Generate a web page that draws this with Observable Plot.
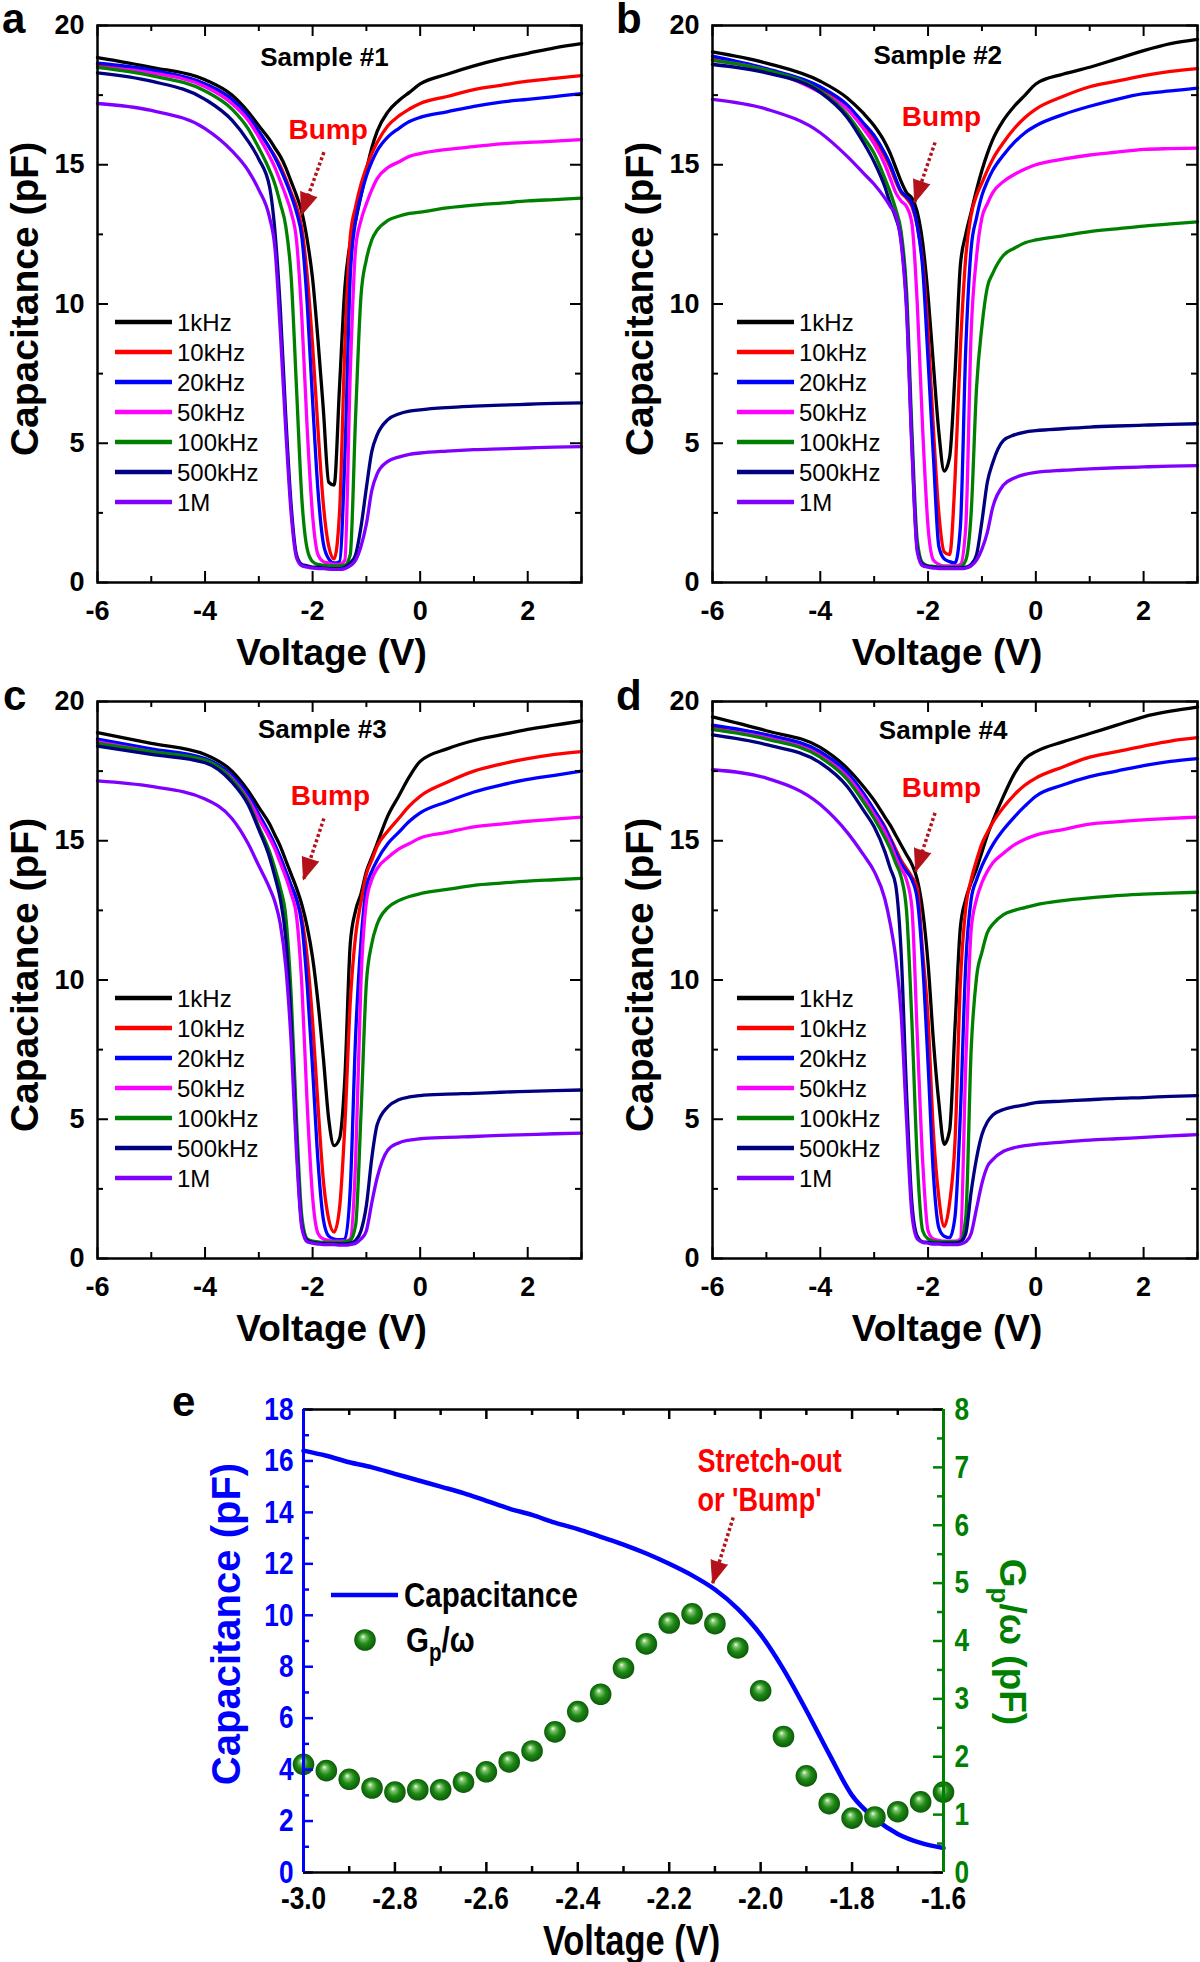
<!DOCTYPE html>
<html><head><meta charset="utf-8">
<script src="https://cdn.jsdelivr.net/npm/d3@7"></script>
<script src="https://cdn.jsdelivr.net/npm/@observablehq/plot@0.6"></script>
<style>
html,body{margin:0;padding:0;background:#fff;overflow:hidden;}
#fig{position:relative;width:1200px;height:1962px;font-family:Arial,"Liberation Sans",Helvetica,sans-serif;}
#fig > svg, #fig > div{position:absolute;}
</style></head>
<body><div id="fig"></div>
<script>
// ---------------- DATA ----------------
const freqs = ["1kHz","10kHz","20kHz","50kHz","100kHz","500kHz","1M"];
const freqColors = ["#000000","#ff0000","#0000ff","#ff00ff","#008000","#000080","#7f00ff"];
const sampleTitles = ["Sample #1","Sample #2","Sample #3","Sample #4"];
const panelLetters = ["a","b","c","d","e"];

// voltage grid shared by panels a-d
const V = [-6,-5,-4,-3.5,-3.2,-3,-2.8,-2.7,-2.6,-2.5,-2.4,-2.3,-2.2,-2.1,-2.0,-1.9,-1.8,-1.7,-1.6,-1.5,-1.4,-1.3,-1.2,-1.1,-1.0,-0.9,-0.8,-0.6,-0.4,-0.2,0,0.5,1,1.5,2,2.5,3];

// Sample #1
const a_1k   = [18.85,18.5,18.05,17.5,16.9,16.4,15.9,15.6,15.3,14.9,14.4,13.9,13.3,12.3,10.9,8.7,6.2,3.6,3.5,7.0,10.6,12.2,13.0,13.9,14.8,15.6,16.2,16.9,17.3,17.6,17.9,18.25,18.55,18.8,19.0,19.2,19.35];
const a_10k  = [18.6,18.35,17.9,17.35,16.75,16.2,15.6,15.3,14.95,14.5,14.0,13.5,12.7,11.0,8.5,5.5,2.8,1.3,0.85,2.5,8.5,12.4,13.5,14.3,14.9,15.4,15.8,16.4,16.75,17.0,17.2,17.45,17.7,17.85,18.0,18.1,18.2];
const a_20k  = [18.65,18.4,17.9,17.35,16.75,16.2,15.6,15.25,14.85,14.4,13.9,13.3,12.4,10.0,6.5,3.3,1.4,0.85,0.7,0.75,4.5,11.0,13.0,13.9,14.6,15.1,15.5,16.0,16.3,16.55,16.7,16.9,17.1,17.25,17.35,17.45,17.55];
const a_50k  = [18.5,18.3,17.8,17.2,16.6,16.0,15.3,14.9,14.4,13.9,13.3,12.3,9.5,5.5,2.4,1.0,0.75,0.7,0.65,0.65,0.8,7.5,12.0,13.0,13.6,14.1,14.5,14.9,15.1,15.3,15.4,15.55,15.65,15.75,15.8,15.85,15.9];
const a_100k = [18.5,18.2,17.65,17.0,16.3,15.6,14.8,14.3,13.6,12.8,11.0,7.0,3.0,1.2,0.75,0.65,0.62,0.6,0.6,0.6,0.62,1.0,6.0,10.3,11.6,12.3,12.65,13.0,13.15,13.25,13.3,13.45,13.55,13.62,13.7,13.75,13.8];
const a_500k = [18.3,18.0,17.35,16.6,15.85,15.2,14.2,12.6,9.8,6.0,2.8,1.0,0.65,0.6,0.55,0.55,0.52,0.5,0.5,0.5,0.55,0.7,1.0,2.0,3.4,4.7,5.3,5.85,6.05,6.15,6.2,6.28,6.33,6.37,6.4,6.43,6.45];
const a_1M   = [17.2,16.95,16.3,15.5,14.8,14.1,13.1,12.0,9.0,5.5,2.5,0.9,0.6,0.55,0.52,0.5,0.5,0.48,0.47,0.47,0.5,0.6,0.8,1.3,2.1,3.3,3.9,4.35,4.5,4.6,4.65,4.72,4.77,4.8,4.83,4.86,4.88];

// Sample #2
const b_1k   = [19.05,18.65,18.0,17.4,16.85,16.4,15.8,15.4,14.9,14.4,14.0,13.8,13.3,12.2,10.3,7.8,5.4,4.0,4.5,7.5,11.4,12.5,13.3,14.1,14.8,15.4,15.9,16.6,17.1,17.5,17.9,18.25,18.5,18.8,19.1,19.35,19.5];
const b_10k  = [18.8,18.4,17.75,17.1,16.45,15.95,15.3,14.9,14.4,14.0,13.8,13.5,12.8,11.5,9.0,5.5,2.5,1.1,1.0,3.7,8.4,11.7,13.2,13.9,14.35,14.8,15.2,15.8,16.3,16.7,17.0,17.45,17.8,18.0,18.2,18.35,18.45];
const b_20k  = [18.9,18.45,17.8,17.15,16.5,16.05,15.4,15.0,14.5,14.05,13.85,13.6,12.8,11.3,8.0,4.5,1.3,0.85,0.75,0.7,2.0,8.4,12.0,13.1,13.9,14.4,14.8,15.35,15.8,16.15,16.4,16.8,17.1,17.35,17.55,17.65,17.75];
const b_50k  = [18.75,18.4,17.6,17.0,16.3,15.75,15.0,14.5,14.0,13.7,13.5,12.9,10.0,5.5,2.0,0.8,0.65,0.6,0.6,0.6,0.65,2.0,9.0,11.7,13.1,13.6,14.0,14.4,14.65,14.85,15.0,15.2,15.35,15.45,15.55,15.58,15.6];
const b_100k = [18.75,18.4,17.65,16.8,16.0,15.4,14.5,14.0,13.4,12.6,10.5,5.5,1.5,0.7,0.6,0.58,0.56,0.55,0.55,0.55,0.56,0.8,2.5,7.0,9.2,10.6,11.1,11.75,12.0,12.2,12.3,12.45,12.6,12.7,12.8,12.88,12.95];
const b_500k = [18.6,18.3,17.6,16.7,15.8,15.1,14.2,13.6,13.1,12.3,10.0,5.0,1.2,0.65,0.58,0.55,0.53,0.52,0.52,0.52,0.52,0.55,0.65,1.0,2.2,3.6,4.3,5.1,5.3,5.4,5.45,5.52,5.58,5.62,5.65,5.68,5.7];
const b_1M   = [17.35,17.0,16.15,15.3,14.7,14.3,13.8,13.5,13.2,12.2,9.8,4.8,1.1,0.6,0.55,0.52,0.5,0.5,0.5,0.5,0.5,0.52,0.6,0.8,1.2,1.8,2.7,3.5,3.75,3.88,3.95,4.03,4.08,4.12,4.15,4.18,4.2];

// Sample #3
const c_1k   = [18.88,18.5,18.1,17.5,16.8,16.2,15.6,15.2,14.8,14.3,13.8,13.3,12.7,11.9,10.8,9.2,7.2,5.0,4.05,4.3,6.5,11.3,12.5,13.1,13.9,14.4,14.9,15.9,16.6,17.3,17.85,18.3,18.6,18.8,19.0,19.15,19.3];
const c_10k  = [18.6,18.25,17.9,17.3,16.6,15.9,15.2,14.8,14.4,13.9,13.4,12.9,12.2,10.8,8.5,5.5,2.8,1.4,0.95,1.8,4.8,9.2,11.6,12.8,13.8,14.3,14.8,15.35,15.8,16.25,16.6,17.1,17.5,17.75,17.95,18.1,18.2];
const c_20k  = [18.65,18.3,17.95,17.35,16.65,15.95,15.25,14.85,14.4,13.9,13.4,12.9,12.0,9.8,6.8,3.5,1.4,0.8,0.7,0.68,0.7,2.5,8.0,11.4,13.3,13.9,14.3,14.9,15.3,15.7,16.0,16.4,16.75,17.0,17.2,17.35,17.5];
const c_50k  = [18.55,18.2,17.85,17.25,16.5,15.8,15.1,14.7,14.2,13.7,13.1,12.3,9.8,5.5,2.2,0.9,0.7,0.65,0.62,0.62,0.62,0.7,3.5,10.0,12.8,13.6,14.0,14.4,14.7,14.9,15.1,15.3,15.5,15.6,15.7,15.78,15.85];
const c_100k = [18.5,18.2,17.9,17.2,16.4,15.5,14.6,14.0,13.3,12.3,9.5,5.0,1.5,0.7,0.62,0.6,0.58,0.58,0.58,0.58,0.6,0.65,1.2,5.2,9.9,11.3,12.0,12.6,12.85,13.0,13.1,13.25,13.4,13.48,13.55,13.6,13.65];
const c_500k = [18.4,18.1,17.8,17.1,16.3,15.4,14.4,13.7,12.9,11.5,8.5,4.2,1.2,0.65,0.58,0.55,0.53,0.52,0.52,0.52,0.52,0.55,0.65,1.0,1.9,3.6,4.8,5.45,5.7,5.8,5.85,5.9,5.93,5.97,6.0,6.03,6.05];
const c_1M   = [17.15,16.95,16.5,15.8,14.9,14.1,13.3,12.8,12.0,10.5,7.8,3.8,1.1,0.6,0.55,0.52,0.5,0.5,0.5,0.48,0.48,0.5,0.55,0.7,1.0,2.0,2.9,3.9,4.15,4.25,4.3,4.35,4.38,4.42,4.45,4.48,4.5];

// Sample #4
const d_1k   = [19.45,18.95,18.35,17.6,16.95,16.45,15.85,15.55,15.2,14.85,14.5,14.15,13.6,12.5,10.6,7.8,5.6,4.1,4.6,8.3,11.9,12.9,13.5,14.0,14.6,15.2,15.7,16.6,17.4,17.95,18.2,18.55,18.85,19.15,19.45,19.65,19.8];
const d_10k  = [19.1,18.8,18.15,17.4,16.7,16.1,15.5,15.1,14.7,14.3,14.0,13.7,13.3,11.0,8.6,4.5,2.2,1.15,2.0,4.2,9.9,12.6,13.6,14.3,14.9,15.3,15.65,16.2,16.65,17.0,17.25,17.65,18.0,18.2,18.4,18.58,18.7];
const d_20k  = [19.15,18.8,18.2,17.45,16.7,16.1,15.45,15.05,14.6,14.2,13.9,13.6,12.9,10.6,7.0,3.0,1.1,0.8,0.75,1.5,5.2,10.6,12.9,13.6,14.1,14.5,14.85,15.4,15.85,16.25,16.6,17.0,17.3,17.5,17.7,17.85,17.95];
const d_50k  = [19.0,18.7,18.05,17.3,16.55,15.95,15.3,14.9,14.4,14.0,13.6,12.6,8.0,3.5,1.0,0.7,0.65,0.62,0.62,0.62,0.7,7.0,11.8,12.9,13.5,13.9,14.2,14.55,14.85,15.05,15.2,15.4,15.6,15.68,15.75,15.8,15.85];
const d_100k = [19.0,18.65,18.0,17.2,16.4,15.8,15.1,14.7,14.2,13.7,12.5,8.5,3.5,1.0,0.7,0.62,0.6,0.6,0.6,0.6,0.6,1.5,7.5,10.1,11.0,11.7,12.0,12.35,12.5,12.6,12.7,12.85,12.95,13.03,13.08,13.12,13.15];
const d_500k = [18.8,18.45,17.8,16.95,16.1,15.5,14.6,14.0,13.4,11.0,6.0,2.0,0.8,0.6,0.58,0.55,0.55,0.55,0.55,0.55,0.6,0.9,2.4,3.6,4.45,4.9,5.15,5.35,5.45,5.52,5.6,5.65,5.7,5.75,5.78,5.82,5.85];
const d_1M   = [17.55,17.25,16.3,15.3,14.5,13.9,12.9,12.0,10.8,8.8,5.0,1.6,0.7,0.58,0.55,0.52,0.52,0.5,0.5,0.5,0.52,0.6,0.9,1.8,2.7,3.3,3.55,3.85,3.98,4.05,4.1,4.18,4.25,4.3,4.35,4.4,4.45];

// axis ticks a-d
const cvXTicks = [-6,-4,-2,0,2];
const cvXMinor = [-5,-3,-1,1,3];
const cvYTicks = [0,5,10,15,20];
const cvYMinor = [2.5,7.5,12.5,17.5];

// annotation anchor points (data units) for a-d
const titleAt   = [[-1.78,18.83],[-1.82,18.9],[-1.82,19.0],[-1.72,18.95]];
const bumpTextAt= [[-1.71,16.26],[-1.75,16.7],[-1.67,16.6],[-1.75,16.9]];
const bumpTail  = [[-1.79,15.45],[-1.87,15.8],[-1.79,15.8],[-1.87,16.0]];
const bumpTip   = [[-2.21,13.2],[-2.25,13.65],[-2.17,13.6],[-2.23,13.9]];

// Panel e
const eVolt = [-3.0,-2.95,-2.9,-2.85,-2.8,-2.75,-2.7,-2.65,-2.6,-2.55,-2.5,-2.45,-2.4,-2.35,-2.3,-2.25,-2.2,-2.15,-2.1,-2.05,-2.0,-1.95,-1.9,-1.85,-1.8,-1.75,-1.7,-1.65,-1.6];
const eCap  = [16.4,16.2,15.95,15.75,15.5,15.25,15.0,14.75,14.45,14.15,13.9,13.6,13.35,13.05,12.75,12.4,12.0,11.55,11.0,10.25,9.25,7.9,6.3,4.6,3.0,2.1,1.5,1.15,0.95];
const eGp   = [1.87,1.76,1.61,1.46,1.39,1.43,1.43,1.56,1.74,1.91,2.1,2.43,2.78,3.08,3.53,3.95,4.31,4.47,4.3,3.88,3.14,2.35,1.67,1.19,0.94,0.96,1.05,1.22,1.39];
const eXTicks = [-3.0,-2.8,-2.6,-2.4,-2.2,-2.0,-1.8,-1.6];
const eXMinor = [-2.9,-2.7,-2.5,-2.3,-2.1,-1.9,-1.7];
const eCapTicks = [0,2,4,6,8,10,12,14,16,18];
const eCapMinor = [1,3,5,7,9,11,13,15,17];
const eGTicks = [0,1,2,3,4,5,6,7,8];
const eGMinor = [0.5,1.5,2.5,3.5,4.5,5.5,6.5,7.5];
const eNoteAt = [[-2.138,15.98],[-2.138,14.45]];
const eNoteText = ["Stretch-out","or 'Bump'"];
const eArrowTail = [-2.06,13.8];
const eArrowTip  = [-2.105,11.25];

// ---------------- RENDER ----------------
const FONT = "Arial, 'Liberation Sans', Helvetica, sans-serif";
const NARROW = "'Liberation Sans', Arial, sans-serif";   // condensed afterwards (Arial Narrow look)
const SQUEEZE = 0.82;
const ARROW_RED = "#b3121a";
const BLUE = "#0000ff", GREEN = "#008000";
const fig = document.getElementById("fig");
const NS = "http://www.w3.org/2000/svg";

function condense(svg) {
  svg.querySelectorAll("[font-family]").forEach(el => {
    if (el.getAttribute("font-family") !== NARROW) return;
    const texts = el.tagName.toLowerCase() === "text" ? [el] : el.querySelectorAll("text");
    texts.forEach(t => {
      const tr = t.getAttribute("transform");
      if (tr) t.setAttribute("transform", tr + ` scale(${SQUEEZE},1)`);
      else {
        const x = +(t.getAttribute("x") || 0), y = +(t.getAttribute("y") || 0);
        t.setAttribute("transform", `translate(${x},${y}) scale(${SQUEEZE},1) translate(${-x},${-y})`);
      }
    });
  });
}

function inwardTicks(xs, ys, innerW, innerH, len, xStroke, yStrokeL, yStrokeR, width) {
  const o = {strokeWidth: width};
  return [
    Plot.tickX(xs, {x: d => d, insetTop: innerH - len, stroke: xStroke, ...o}),
    Plot.tickX(xs, {x: d => d, insetBottom: innerH - len, stroke: xStroke, ...o}),
    Plot.tickY(ys[0], {y: d => d, insetRight: innerW - len, stroke: yStrokeL, ...o}),
    Plot.tickY(ys[1], {y: d => d, insetLeft: innerW - len, stroke: yStrokeR, ...o})
  ];
}

function arrowMarks(tail, tip, kx, ky, color) {
  const ang = Math.atan2((tip[0] - tail[0]) * kx, (tip[1] - tail[1]) * ky) * 180 / Math.PI;
  return [
    Plot.link([0], {x1: () => tail[0], y1: () => tail[1], x2: () => tip[0], y2: () => tip[1],
      stroke: color, strokeWidth: 3.5, strokeDasharray: "3,2.5"}),
    Plot.vector([0], {x: () => tip[0], y: () => tip[1], rotate: ang, length: 22, r: 8.5,
      shape: "spike", anchor: "end", fill: color, stroke: color, strokeWidth: 1})
  ];
}

function cvPanel(k, curves, left, top, ml, mr) {
  const W = 600, H = 680, mt = 25, mb = 98;
  const innerW = W - ml - mr, innerH = H - mt - mb;
  const rows = [];
  curves.forEach((vals, i) => vals.forEach((c, j) => rows.push({v: V[j], c, f: freqs[i]})));
  const kx = innerW / 9, ky = innerH / 20;
  const plot = Plot.plot({
    width: W, height: H, marginLeft: ml, marginRight: mr, marginTop: mt, marginBottom: mb,
    style: {fontFamily: FONT, background: "transparent", overflow: "visible"},
    x: {domain: [-6, 3]}, y: {domain: [0, 20]},
    color: {domain: freqs, range: freqColors},
    marks: [
      Plot.line(rows, {x: "v", y: "c", z: "f", stroke: "f", strokeWidth: 3.3, curve: "monotone-x"}),
      ...inwardTicks(cvXTicks, [cvYTicks, cvYTicks], innerW, innerH, 11, "black", "black", "black", 2),
      ...inwardTicks(cvXMinor, [cvYMinor, cvYMinor], innerW, innerH, 6, "black", "black", "black", 2),
      Plot.frame({stroke: "black", strokeWidth: 2.5}),
      Plot.axisX({ticks: cvXTicks, tickSize: 0, tickPadding: 18, fontSize: 27, fontWeight: "bold",
        fill: "black", tickFormat: d => String(d), label: null}),
      Plot.axisY({ticks: cvYTicks, tickSize: 0, tickPadding: 13, fontSize: 27, fontWeight: "bold",
        fill: "black", tickFormat: d => String(d), label: null}),
      Plot.text(["Voltage (V)"], {text: d => d, frameAnchor: "bottom", dy: 71, dx: -8,
        textAnchor: "middle", lineAnchor: "middle", fontSize: 37, fontWeight: "bold", fill: "black"}),
      Plot.text(["Capacitance (pF)"], {text: d => d, frameAnchor: "left", dx: -72, dy: -5, rotate: -90,
        textAnchor: "middle", lineAnchor: "middle", fontSize: 39, fontWeight: "bold", fill: "black"}),
      Plot.text([sampleTitles[k]], {text: d => d, x: () => titleAt[k][0], y: () => titleAt[k][1],
        fontSize: 26, fontWeight: "bold", fill: "black"}),
      ...arrowMarks(bumpTail[k], bumpTip[k], kx, ky, ARROW_RED),
      Plot.text(["Bump"], {text: d => d, x: () => bumpTextAt[k][0], y: () => bumpTextAt[k][1],
        fontSize: 28, fontWeight: "bold", fill: "#ff0000"})
    ]
  });
  plot.style.left = left + "px";
  plot.style.top = top + "px";
  fig.appendChild(plot);
}

cvPanel(0, [a_1k,a_10k,a_20k,a_50k,a_100k,a_500k,a_1M], 0, 0, 97, 19);
cvPanel(1, [b_1k,b_10k,b_20k,b_50k,b_100k,b_500k,b_1M], 600, 0, 112, 3);
cvPanel(2, [c_1k,c_10k,c_20k,c_50k,c_100k,c_500k,c_1M], 0, 676, 97, 19);
cvPanel(3, [d_1k,d_10k,d_20k,d_50k,d_100k,d_500k,d_1M], 600, 676, 112, 3);

// Panel e
(function () {
  const W = 1200, H = 582, ml = 303, mr = 257, mt = 29, mb = 90;
  const innerW = W - ml - mr, innerH = H - mt - mb;
  const g2c = 18 / 8;
  const capRows = eVolt.map((v, i) => ({v, c: eCap[i]}));
  const gRows = eVolt.map((v, i) => ({v, g: eGp[i]}));
  const kx = innerW / 1.4, ky = innerH / 18;
  const plot = Plot.plot({
    width: W, height: H, marginLeft: ml, marginRight: mr, marginTop: mt, marginBottom: mb,
    style: {fontFamily: FONT, background: "transparent", overflow: "visible"},
    x: {domain: [-3.0, -1.6]}, y: {domain: [0, 18]},
    marks: [
      Plot.line(capRows, {x: "v", y: "c", stroke: BLUE, strokeWidth: 4.5, curve: "monotone-x"}),
      Plot.dot(gRows, {x: "v", y: d => d.g * g2c, r: 10.8, fill: "url(#ball)", stroke: "none"}),
      ...inwardTicks(eXTicks, [eCapTicks, eGTicks.map(g => g * g2c)], innerW, innerH, 10, "black", BLUE, GREEN, 2.5),
      ...inwardTicks(eXMinor, [eCapMinor, eGMinor.map(g => g * g2c)], innerW, innerH, 6, "black", BLUE, GREEN, 2.5),
      Plot.ruleY([0], {stroke: "black", strokeWidth: 2.5}),
      Plot.ruleY([18], {stroke: "black", strokeWidth: 2.5}),
      Plot.ruleX([-3.0], {stroke: BLUE, strokeWidth: 3}),
      Plot.ruleX([-1.6], {stroke: GREEN, strokeWidth: 3}),
      Plot.axisX({ticks: eXTicks, tickSize: 0, tickPadding: 14, fontSize: 32, fontWeight: "bold",
        fontFamily: NARROW, fill: "black", tickFormat: d => d.toFixed(1), label: null}),
      Plot.axisY({anchor: "left", ticks: eCapTicks, tickSize: 0, tickPadding: 10, fontSize: 32, fontWeight: "bold",
        fontFamily: NARROW, fill: BLUE, tickFormat: d => String(d), label: null}),
      Plot.axisY({anchor: "right", ticks: eGTicks.map(g => g * g2c), tickSize: 0, tickPadding: 11, fontSize: 32,
        fontWeight: "bold", fontFamily: NARROW, fill: GREEN, tickFormat: d => String(Math.round(d / g2c)), label: null}),
      Plot.text(["Voltage (V)"], {text: d => d, frameAnchor: "bottom", dy: 69, dx: 8,
        textAnchor: "middle", lineAnchor: "middle", fontSize: 42, fontWeight: "bold", fontFamily: NARROW, fill: "black"}),
      Plot.text(["Capacitance (pF)"], {text: d => d, frameAnchor: "left", dx: -76, dy: -17, rotate: -90,
        textAnchor: "middle", lineAnchor: "middle", fontSize: 40, fontWeight: "bold", fill: BLUE}),
      Plot.text(eNoteText, {text: d => d, x: (d, i) => eNoteAt[i][0], y: (d, i) => eNoteAt[i][1],
        textAnchor: "start", fontSize: 33, fontWeight: "bold", fontFamily: NARROW, fill: "#ff0000"}),
      ...arrowMarks(eArrowTail, eArrowTip, kx, ky, ARROW_RED)
    ]
  });
  const defs = document.createElementNS(NS, "defs");
  defs.innerHTML = '<radialGradient id="ball" cx="0.5" cy="0.5" r="0.5" fx="0.4" fy="0.33">' +
    '<stop offset="0" stop-color="#f2fff0"/><stop offset="0.22" stop-color="#7cc46a"/>' +
    '<stop offset="0.55" stop-color="#1f8a17"/><stop offset="1" stop-color="#0b5a07"/></radialGradient>';
  plot.insertBefore(defs, plot.firstChild);
  condense(plot);
  plot.style.left = "0px";
  plot.style.top = "1380px";
  fig.appendChild(plot);
})();

// ---------------- OVERLAY: panel letters, legends ----------------
(function () {
  const svg = document.createElementNS(NS, "svg");
  svg.setAttribute("width", 1200); svg.setAttribute("height", 1962);
  svg.style.left = "0px"; svg.style.top = "0px";
  svg.setAttribute("font-family", FONT);
  let s = '<defs><radialGradient id="ball2" cx="0.5" cy="0.5" r="0.5" fx="0.4" fy="0.33">' +
    '<stop offset="0" stop-color="#f2fff0"/><stop offset="0.22" stop-color="#7cc46a"/>' +
    '<stop offset="0.55" stop-color="#1f8a17"/><stop offset="1" stop-color="#0b5a07"/></radialGradient></defs>';
  const letterPos = [[2,33],[616,33],[3,710],[616,710],[172,1416]];
  panelLetters.forEach((L, i) => {
    s += `<text x="${letterPos[i][0]}" y="${letterPos[i][1]}" font-size="42" font-weight="bold">${L}</text>`;
  });
  // legends a-d
  const legendOrigins = [[115,0],[737,0],[115,676],[737,676]];
  legendOrigins.forEach(([lx, oy]) => {
    freqs.forEach((f, i) => {
      const cy = oy + 322 + 30 * i;
      s += `<line x1="${lx}" x2="${lx + 57}" y1="${cy}" y2="${cy}" stroke="${freqColors[i]}" stroke-width="4.5"/>`;
      s += `<text x="${lx + 62}" y="${cy + 8.5}" font-size="24">${f}</text>`;
    });
  });
  // legend e (condensed bold)
  s += `<line x1="331" x2="398" y1="1595" y2="1595" stroke="${BLUE}" stroke-width="4.5"/>`;
  s += `<text transform="translate(404,1607) scale(${SQUEEZE},1)" font-size="36" font-weight="bold">Capacitance</text>`;
  s += `<circle cx="365" cy="1640" r="10.8" fill="url(#ball2)"/>`;
  s += `<text transform="translate(406,1652) scale(${SQUEEZE},1)" font-size="36" font-weight="bold">G<tspan font-size="25" dy="9">p</tspan><tspan dy="-9">/ω</tspan></text>`;
  // right axis label e
  s += `<text transform="translate(1000,1642) rotate(90)" text-anchor="middle" font-size="37" font-weight="bold" fill="${GREEN}">G<tspan font-size="26" dy="9">p</tspan><tspan dy="-9">/ω (pF)</tspan></text>`;
  svg.innerHTML = s;
  fig.appendChild(svg);
})();
</script>
</body></html>
